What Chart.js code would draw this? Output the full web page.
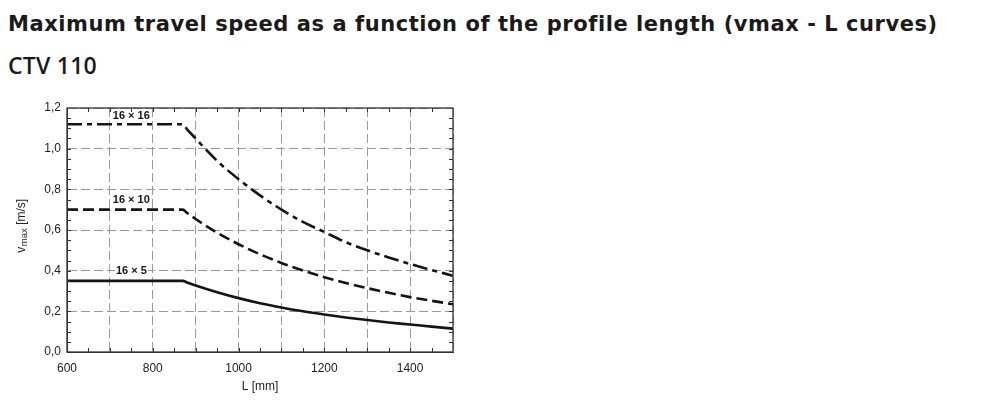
<!DOCTYPE html>
<html lang="en">
<head>
    <meta charset="UTF-8">
    <title>vmax - L curves CTV 110</title>
    <script src="https://cdn.jsdelivr.net/npm/chart.js@4.4.0/dist/chart.umd.min.js"></script>
    <style>
        body {
            margin: 0;
            width: 1000px;
            height: 404px;
            background: #fff;
            position: relative;
            overflow: hidden;
            color: #1a1a1a;
        }
        h1 {
            position: absolute;
            left: 8px;
            top: 12px;
            margin: 0;
            font-family: 'DejaVu Sans', sans-serif;
            font-size: 21px;
            font-weight: 700;
            white-space: nowrap;
        }
        h2 {
            position: absolute;
            left: 8px;
            top: 49px;
            margin: 0;
            font-family: 'Open Sans', sans-serif;
            font-size: 23px;
            font-weight: 600;
            white-space: nowrap;
        }
        .chart-box {
            position: absolute;
            left: 0;
            top: 90px;
            width: 470px;
            height: 314px;
        }
    </style>
</head>
<body>
    <h1 id="title">Maximum travel speed as a function of the profile length (vmax - L curves)</h1>
    <h2 id="subtitle">CTV 110</h2>
    <div class="chart-box"><canvas id="chart"></canvas></div>

    <script>
        // profile length L [mm]
        const lengths = [600, 870, 880, 900, 950, 1000, 1050, 1100, 1150, 1200, 1250, 1300, 1350, 1400, 1450, 1500];
        // vmax [m/s]
        const v16x16 = [1.12, 1.12, 1.095, 1.05, 0.94, 0.85, 0.77, 0.70, 0.64, 0.59, 0.54, 0.50, 0.465, 0.433, 0.403, 0.375];
        const v16x10 = [0.70, 0.70, 0.684, 0.654, 0.587, 0.530, 0.481, 0.438, 0.401, 0.368, 0.339, 0.314, 0.291, 0.270, 0.252, 0.235];
        const v16x5  = [0.35, 0.35, 0.342, 0.327, 0.294, 0.265, 0.240, 0.219, 0.200, 0.184, 0.170, 0.157, 0.145, 0.135, 0.125, 0.115];

        const seriesNames = ['16 × 16', '16 × 10', '16 × 5'];
        // where the curve names sit (L, v)
        const labelL = [750, 750, 750];
        const labelV = [1.16, 0.748, 0.397];

        const xTicks = [600, 800, 1000, 1200, 1400];

        const DARK = '#151515';
        const GRID = '#9a9a9a';
        const AXIS = '#333';
        const ARIAL = '"Liberation Sans", Arial, sans-serif';

        // stretch heading text to the width it has in the original
        function fitWidth(el, target) {
            const w = el.getBoundingClientRect().width;
            const n = el.textContent.length;
            el.style.letterSpacing = ((target - w) / n) + 'px';
        }
        fitWidth(document.getElementById('title'), 929);
        fitWidth(document.getElementById('subtitle'), 89);

        function toPoints(ys) {
            return lengths.map((l, i) => ({ x: l, y: ys[i] }));
        }

        function makeSet(name, ys, dash) {
            return {
                label: name,
                data: toPoints(ys),
                borderColor: DARK,
                borderWidth: 2.6,
                borderDash: dash,
                pointRadius: 0,
                cubicInterpolationMode: 'monotone',
                fill: false
            };
        }

        // frame, inward ticks, curve names and y title
        const decorations = {
            id: 'decorations',
            afterDatasetsDraw(chart) {
                const ctx = chart.ctx;
                const a = chart.chartArea;
                const xs = chart.scales.x;
                const ys = chart.scales.y;
                ctx.save();

                // curve names with white background
                ctx.font = 'bold 11px ' + ARIAL;
                ctx.textAlign = 'center';
                ctx.textBaseline = 'middle';
                seriesNames.forEach((n, i) => {
                    const px = xs.getPixelForValue(labelL[i]);
                    const py = ys.getPixelForValue(labelV[i]);
                    const w = ctx.measureText(n).width;
                    ctx.fillStyle = '#fff';
                    ctx.fillRect(px - w / 2 - 1, py - 6, w + 2, 12);
                    ctx.fillStyle = DARK;
                    ctx.fillText(n, px, py);
                });

                // frame
                ctx.strokeStyle = AXIS;
                ctx.lineWidth = 1.3;
                ctx.setLineDash([]);
                ctx.strokeRect(a.left, a.top, a.right - a.left, a.bottom - a.top);

                // inward ticks
                ctx.lineWidth = 1;
                ctx.beginPath();
                for (let l = 650; l < 1500; l += 50) {
                    const px = Math.round(xs.getPixelForValue(l)) + 0.5;
                    ctx.moveTo(px, a.bottom); ctx.lineTo(px, a.bottom - 4);
                    ctx.moveTo(px, a.top); ctx.lineTo(px, a.top + 4);
                }
                for (let k = 1; k < 24; k++) {
                    const py = Math.round(ys.getPixelForValue(k * 0.05)) + 0.5;
                    ctx.moveTo(a.left, py); ctx.lineTo(a.left + 4, py);
                    ctx.moveTo(a.right, py); ctx.lineTo(a.right - 4, py);
                }
                ctx.stroke();

                // y title with subscript
                ctx.translate(21, 136);
                ctx.rotate(-Math.PI / 2);
                ctx.fillStyle = '#222';
                ctx.textAlign = 'left';
                ctx.textBaseline = 'alphabetic';
                const f1 = '12px ' + ARIAL;
                const f2 = '9.5px ' + ARIAL;
                ctx.font = f1; const wv = ctx.measureText('v').width;
                ctx.font = f2; const wm = ctx.measureText('max').width;
                ctx.font = f1; const wr = ctx.measureText(' [m/s]').width;
                let x0 = -(wv + wm + wr) / 2;
                ctx.font = f1; ctx.fillText('v', x0, 4); x0 += wv + 0.5;
                ctx.font = f2; ctx.fillText('max', x0, 6); x0 += wm;
                ctx.font = f1; ctx.fillText(' [m/s]', x0, 4);
                ctx.restore();
            }
        };

        new Chart(document.getElementById('chart'), {
            type: 'line',
            data: {
                datasets: [
                    makeSet(seriesNames[0], v16x16, [15, 5, 5, 5]),
                    makeSet(seriesNames[1], v16x10, [11, 5]),
                    makeSet(seriesNames[2], v16x5, [])
                ]
            },
            options: {
                responsive: true,
                maintainAspectRatio: false,
                animation: false,
                layout: { padding: { top: 18, right: 17, left: 0, bottom: 0 } },
                plugins: {
                    legend: { display: false },
                    tooltip: { enabled: false }
                },
                scales: {
                    x: {
                        type: 'linear',
                        min: 600,
                        max: 1500,
                        afterBuildTicks(scale) {
                            scale.ticks = [600, 700, 800, 900, 1000, 1100, 1200, 1300, 1400, 1500].map(v => ({ value: v }));
                        },
                        afterFit(scale) { scale.height = 52; },
                        grid: {
                            color: GRID,
                            lineWidth: 1,
                            drawTicks: false,
                            borderDash: [9, 4]
                        },
                        border: { display: true, color: AXIS, width: 1, dash: [9, 4] },
                        ticks: {
                            padding: 9,
                            maxRotation: 0,
                            autoSkip: false,
                            color: '#222',
                            font: { family: ARIAL, size: 12 },
                            callback: v => xTicks.includes(v) ? String(v) : ''
                        },
                        title: {
                            display: true,
                            text: 'L [mm]',
                            color: '#222',
                            padding: { top: 0, bottom: 10 },
                            font: { family: ARIAL, size: 12 }
                        }
                    },
                    y: {
                        min: 0,
                        max: 1.2,
                        afterFit(scale) { scale.width = 67; },
                        grid: {
                            color: GRID,
                            lineWidth: 1,
                            drawTicks: false,
                            borderDash: [9, 4]
                        },
                        border: { display: true, color: AXIS, width: 1, dash: [9, 4] },
                        ticks: {
                            stepSize: 0.2,
                            padding: 6,
                            color: '#222',
                            font: { family: ARIAL, size: 12 },
                            callback: v => v.toFixed(1).replace('.', ',')
                        }
                    }
                }
            },
            plugins: [decorations]
        });
    </script>
</body>
</html>
